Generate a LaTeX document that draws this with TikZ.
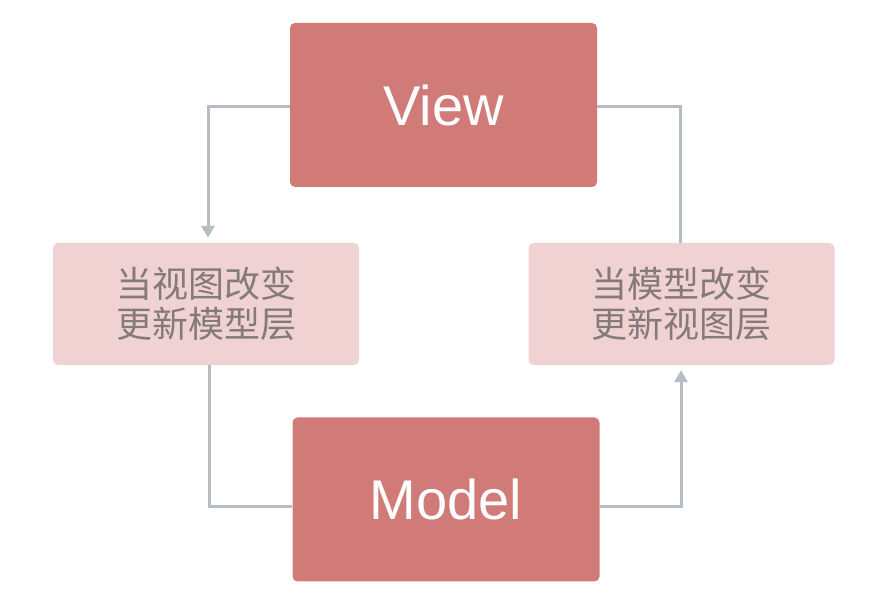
\documentclass[tikz,border=0pt]{standalone}
\usepackage{fontspec}
\setmainfont{Liberation Sans}
\newfontfamily\cjk{Noto Sans CJK SC}
\usetikzlibrary{arrows.meta}
\definecolor{darkbox}{HTML}{D07B77}
\definecolor{lightbox}{HTML}{F1D2D2}
\definecolor{lineg}{HTML}{B6BDC5}
\definecolor{txtg}{HTML}{857A7B}
\tikzset{
  mainbox/.style={fill=darkbox, rounded corners=5pt, minimum width=307pt, minimum height=164pt, text=white, font=\fontsize{56}{66}\selectfont, inner sep=0pt},
  notebox/.style={fill=lightbox, rounded corners=5pt, minimum width=306pt, minimum height=122pt, text=txtg, font=\cjk\fontsize{36}{40}\selectfont, align=center, inner sep=0pt},
  conn/.style={draw=lineg, line width=3pt},
  tip/.style={-{Triangle[width=13pt,length=12pt]}, shorten >=5pt}
}
\begin{document}
\begin{tikzpicture}[x=1pt,y=1pt]
\useasboundingbox[fill=white] (0,0) rectangle (881,607);
\node[mainbox] (view) at (443.5,502) {View};
\node[mainbox] (model) at (446,107.5) {Model};
\node[notebox] (lp) at (206,303) {当视图改变\\更新模型层};
\node[notebox] (rp) at (681.5,303) {当模型改变\\更新视图层};
\coordinate (c1) at (208,500);
\coordinate (c2) at (680,500);
\coordinate (c3) at (209,100);
\coordinate (c4) at (681,100);
\draw[conn,tip] (view.west |- c1) -- (c1) -- (c1 |- lp.north);
\draw[conn] (view.east |- c2) -- (c2) -- (c2 |- rp.north);
\draw[conn] (c3 |- lp.south) -- (c3) -- (model.west |- c3);
\draw[conn,tip] (model.east |- c4) -- (c4) -- (c4 |- rp.south);
\end{tikzpicture}
\end{document}
